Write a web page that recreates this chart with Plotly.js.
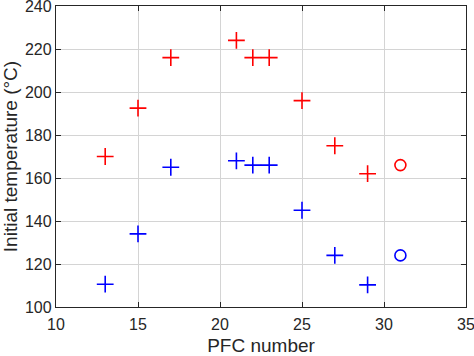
<!DOCTYPE html>
<html><head><meta charset="utf-8">
<script src="https://cdn.plot.ly/plotly-3.0.1.min.js"></script>
<style>html,body{margin:0;padding:0;background:#fff}#c{width:474px;height:356px}</style>
</head><body><div id="c"></div>
<script>
const pfc = [13, 15, 17, 21, 22, 23, 25, 27, 29];
const redVals = [170, 192.5, 216, 224, 216, 216, 196, 175, 162];
const blueVals = [110.6, 134, 165, 168, 166, 166, 145, 124, 110.3];
const circleX = [31];
const redCircle = [166];
const blueCircle = [124];
const xTicks = [10, 15, 20, 25, 30, 35];
const yTicks = [100, 120, 140, 160, 180, 200, 220, 240];

const RED = '#ff0000', BLUE = '#0000ff';
const FONT = 'Liberation Sans, Arial, sans-serif';
const plus = c => ({symbol: 'cross-thin', size: 12, line: {color: c, width: 1.6}, color: c});
const circ = c => ({symbol: 'circle-open', size: 11, line: {color: c, width: 1.6}, color: c});

const data = [
  {x: pfc, y: redVals, mode: 'markers', type: 'scatter', marker: plus(RED), cliponaxis: false},
  {x: pfc, y: blueVals, mode: 'markers', type: 'scatter', marker: plus(BLUE), cliponaxis: false},
  {x: circleX, y: redCircle, mode: 'markers', type: 'scatter', marker: circ(RED), cliponaxis: false},
  {x: circleX, y: blueCircle, mode: 'markers', type: 'scatter', marker: circ(BLUE), cliponaxis: false}
];
const axisCommon = {
  showgrid: true, gridcolor: '#d4d4d4', gridwidth: 1,
  showline: true, linecolor: '#262626', linewidth: 1.2, mirror: 'ticks',
  ticks: 'inside', ticklen: 5, tickcolor: '#262626', tickwidth: 1,
  zeroline: false, ticklabeloverflow: 'allow',
  tickfont: {family: FONT, size: 16, color: '#262626'}
};
const layout = {
  width: 474, height: 356,
  margin: {l: 56, r: 8, t: 6, b: 49},
  paper_bgcolor: '#fff', plot_bgcolor: '#fff',
  showlegend: false,
  xaxis: Object.assign({}, axisCommon, {
    range: [10, 35], tickvals: xTicks, ticktext: xTicks.map(String),
    ticklabelstandoff: 3,
    title: {text: 'PFC number', standoff: 9, font: {family: FONT, size: 19, color: '#262626'}}
  }),
  yaxis: Object.assign({}, axisCommon, {
    range: [100, 240], tickvals: yTicks, ticktext: yTicks.map(String),
    title: {text: 'Initial temperature (°C)', standoff: 4, font: {family: FONT, size: 19, color: '#262626'}}
  })
};
Plotly.newPlot('c', data, layout, {displayModeBar: false, staticPlot: true});
</script></body></html>
